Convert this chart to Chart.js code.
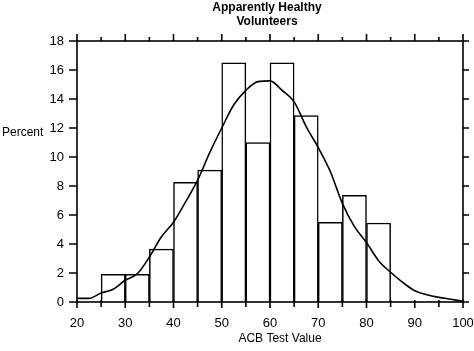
<!DOCTYPE html>
<html>
<head>
<meta charset="utf-8">
<script src="https://cdn.jsdelivr.net/npm/chart.js@4"></script>
<style>
    html, body { margin: 0; padding: 0; background: #fff; }
    #wrap { width: 474px; height: 351px; }
</style>
</head>
<body>
<div id="wrap"><canvas id="histChart" width="474" height="351"></canvas></div>
<script>
// histogram bins (width 5), centres and heights in percent
const binCenters = [27.5, 32.5, 37.5, 42.5, 47.5, 52.5, 57.5, 62.5, 67.5, 72.5, 77.5, 82.5];
const binPercents = [1.9, 1.9, 3.65, 8.25, 9.1, 16.5, 11.0, 16.5, 12.85, 5.5, 7.35, 5.45];

// fitted curve
const curveX = [20, 22.5, 25, 27.5, 30, 32.5, 35, 37.5, 40, 42.5, 45, 47.5, 50, 52.5, 55, 57.5, 60,
                62.5, 65, 67.5, 70, 72.5, 75, 77.5, 80, 82.5, 85, 87.5, 90, 92.5, 95, 97.5, 100];
const curveY = [0.25, 0.25, 0.62, 0.88, 1.5, 1.95, 3.1, 4.5, 5.5, 6.9, 8.4, 10.3, 12.0, 13.6, 14.6, 15.2, 15.25,
                14.6, 13.8, 12.1, 10.65, 9.0, 6.8, 5.2, 4.1, 2.85, 2.05, 1.35, 0.78, 0.5, 0.32, 0.19, 0.05];

const xMajorTicks = [20, 30, 40, 50, 60, 70, 80, 90, 100];
const xMinorTicks = [25, 35, 45, 55, 65, 75, 85, 95];
const yTicks = [0, 2, 4, 6, 8, 10, 12, 14, 16, 18];

const titleLines = ['Apparently Healthy', 'Volunteers'];
const xTitle = 'ACB Test Value';
const yTitle = 'Percent';

const FONT = '"Liberation Sans", Arial, Helvetica, sans-serif';

const framePlugin = {
    id: 'frame',
    afterDraw(chart) {
        const ctx = chart.ctx;
        const a = chart.chartArea;
        const xs = chart.scales.x;
        const ys = chart.scales.y;
        ctx.save();
        ctx.strokeStyle = '#000';
        ctx.lineWidth = 1.6;
        ctx.strokeRect(a.left, a.top, a.right - a.left, a.bottom - a.top);

        ctx.beginPath();
        xMajorTicks.forEach(v => {
            const px = xs.getPixelForValue(v);
            ctx.moveTo(px, a.top); ctx.lineTo(px, a.top - 7);
            ctx.moveTo(px, a.bottom - 2); ctx.lineTo(px, a.bottom + 6);
        });
        xMinorTicks.forEach(v => {
            const px = xs.getPixelForValue(v);
            ctx.moveTo(px, a.top); ctx.lineTo(px, a.top - 4);
            ctx.moveTo(px, a.bottom - 2); ctx.lineTo(px, a.bottom + 5);
        });
        yTicks.forEach(v => {
            const py = ys.getPixelForValue(v);
            ctx.moveTo(a.left, py); ctx.lineTo(a.left - 8, py);
            ctx.moveTo(a.right, py); ctx.lineTo(a.right + 6, py);
        });
        ctx.stroke();

        ctx.fillStyle = '#000';
        ctx.textAlign = 'center';
        ctx.textBaseline = 'middle';
        ctx.font = 'bold 12px ' + FONT;
        ctx.fillText(titleLines[0], 267, 8);
        ctx.fillText(titleLines[1], 267, 22);

        ctx.font = '12px ' + FONT;
        ctx.fillText(xTitle, 280, 339);
        ctx.textAlign = 'left';
        ctx.fillText(yTitle, 2, 133);
        ctx.restore();
    }
};

const ctx = document.getElementById('histChart').getContext('2d');
new Chart(ctx, {
    data: {
        datasets: [
            {
                type: 'line',
                data: curveX.map((x, i) => ({ x: x, y: curveY[i] })),
                borderColor: '#000',
                borderWidth: 1.6,
                pointRadius: 0,
                tension: 0.4,
                cubicInterpolationMode: 'monotone',
                fill: false,
                order: 0
            },
            {
                type: 'bar',
                data: binCenters.map((x, i) => ({ x: x, y: binPercents[i] })),
                backgroundColor: '#fff',
                borderColor: '#000',
                borderWidth: 1.5,
                barPercentage: 1,
                categoryPercentage: 1,
                order: 1
            }
        ]
    },
    options: {
        responsive: false,
        animation: false,
        layout: { padding: { top: 41, right: 11, left: 0, bottom: 0 } },
        plugins: {
            legend: { display: false },
            tooltip: { enabled: false },
            title: { display: false }
        },
        scales: {
            x: {
                type: 'linear',
                offset: false,
                min: 20,
                max: 100,
                grid: { display: false, drawTicks: false, offset: false },
                border: { display: false },
                ticks: { stepSize: 10, color: '#000', padding: 14, font: { family: FONT, size: 13 } },
                afterFit(scale) {
                    scale.height = 49;
                    scale.paddingLeft = 0;
                    scale.paddingRight = 0;
                }
            },
            y: {
                min: 0,
                max: 18,
                grid: { display: false, drawTicks: false },
                border: { display: false },
                ticks: { stepSize: 2, color: '#000', padding: 13, font: { family: FONT, size: 13 } },
                afterFit(scale) {
                    scale.width = 77;
                    scale.paddingTop = 0;
                    scale.paddingBottom = 0;
                }
            }
        }
    },
    plugins: [framePlugin]
});
</script>
</body>
</html>
